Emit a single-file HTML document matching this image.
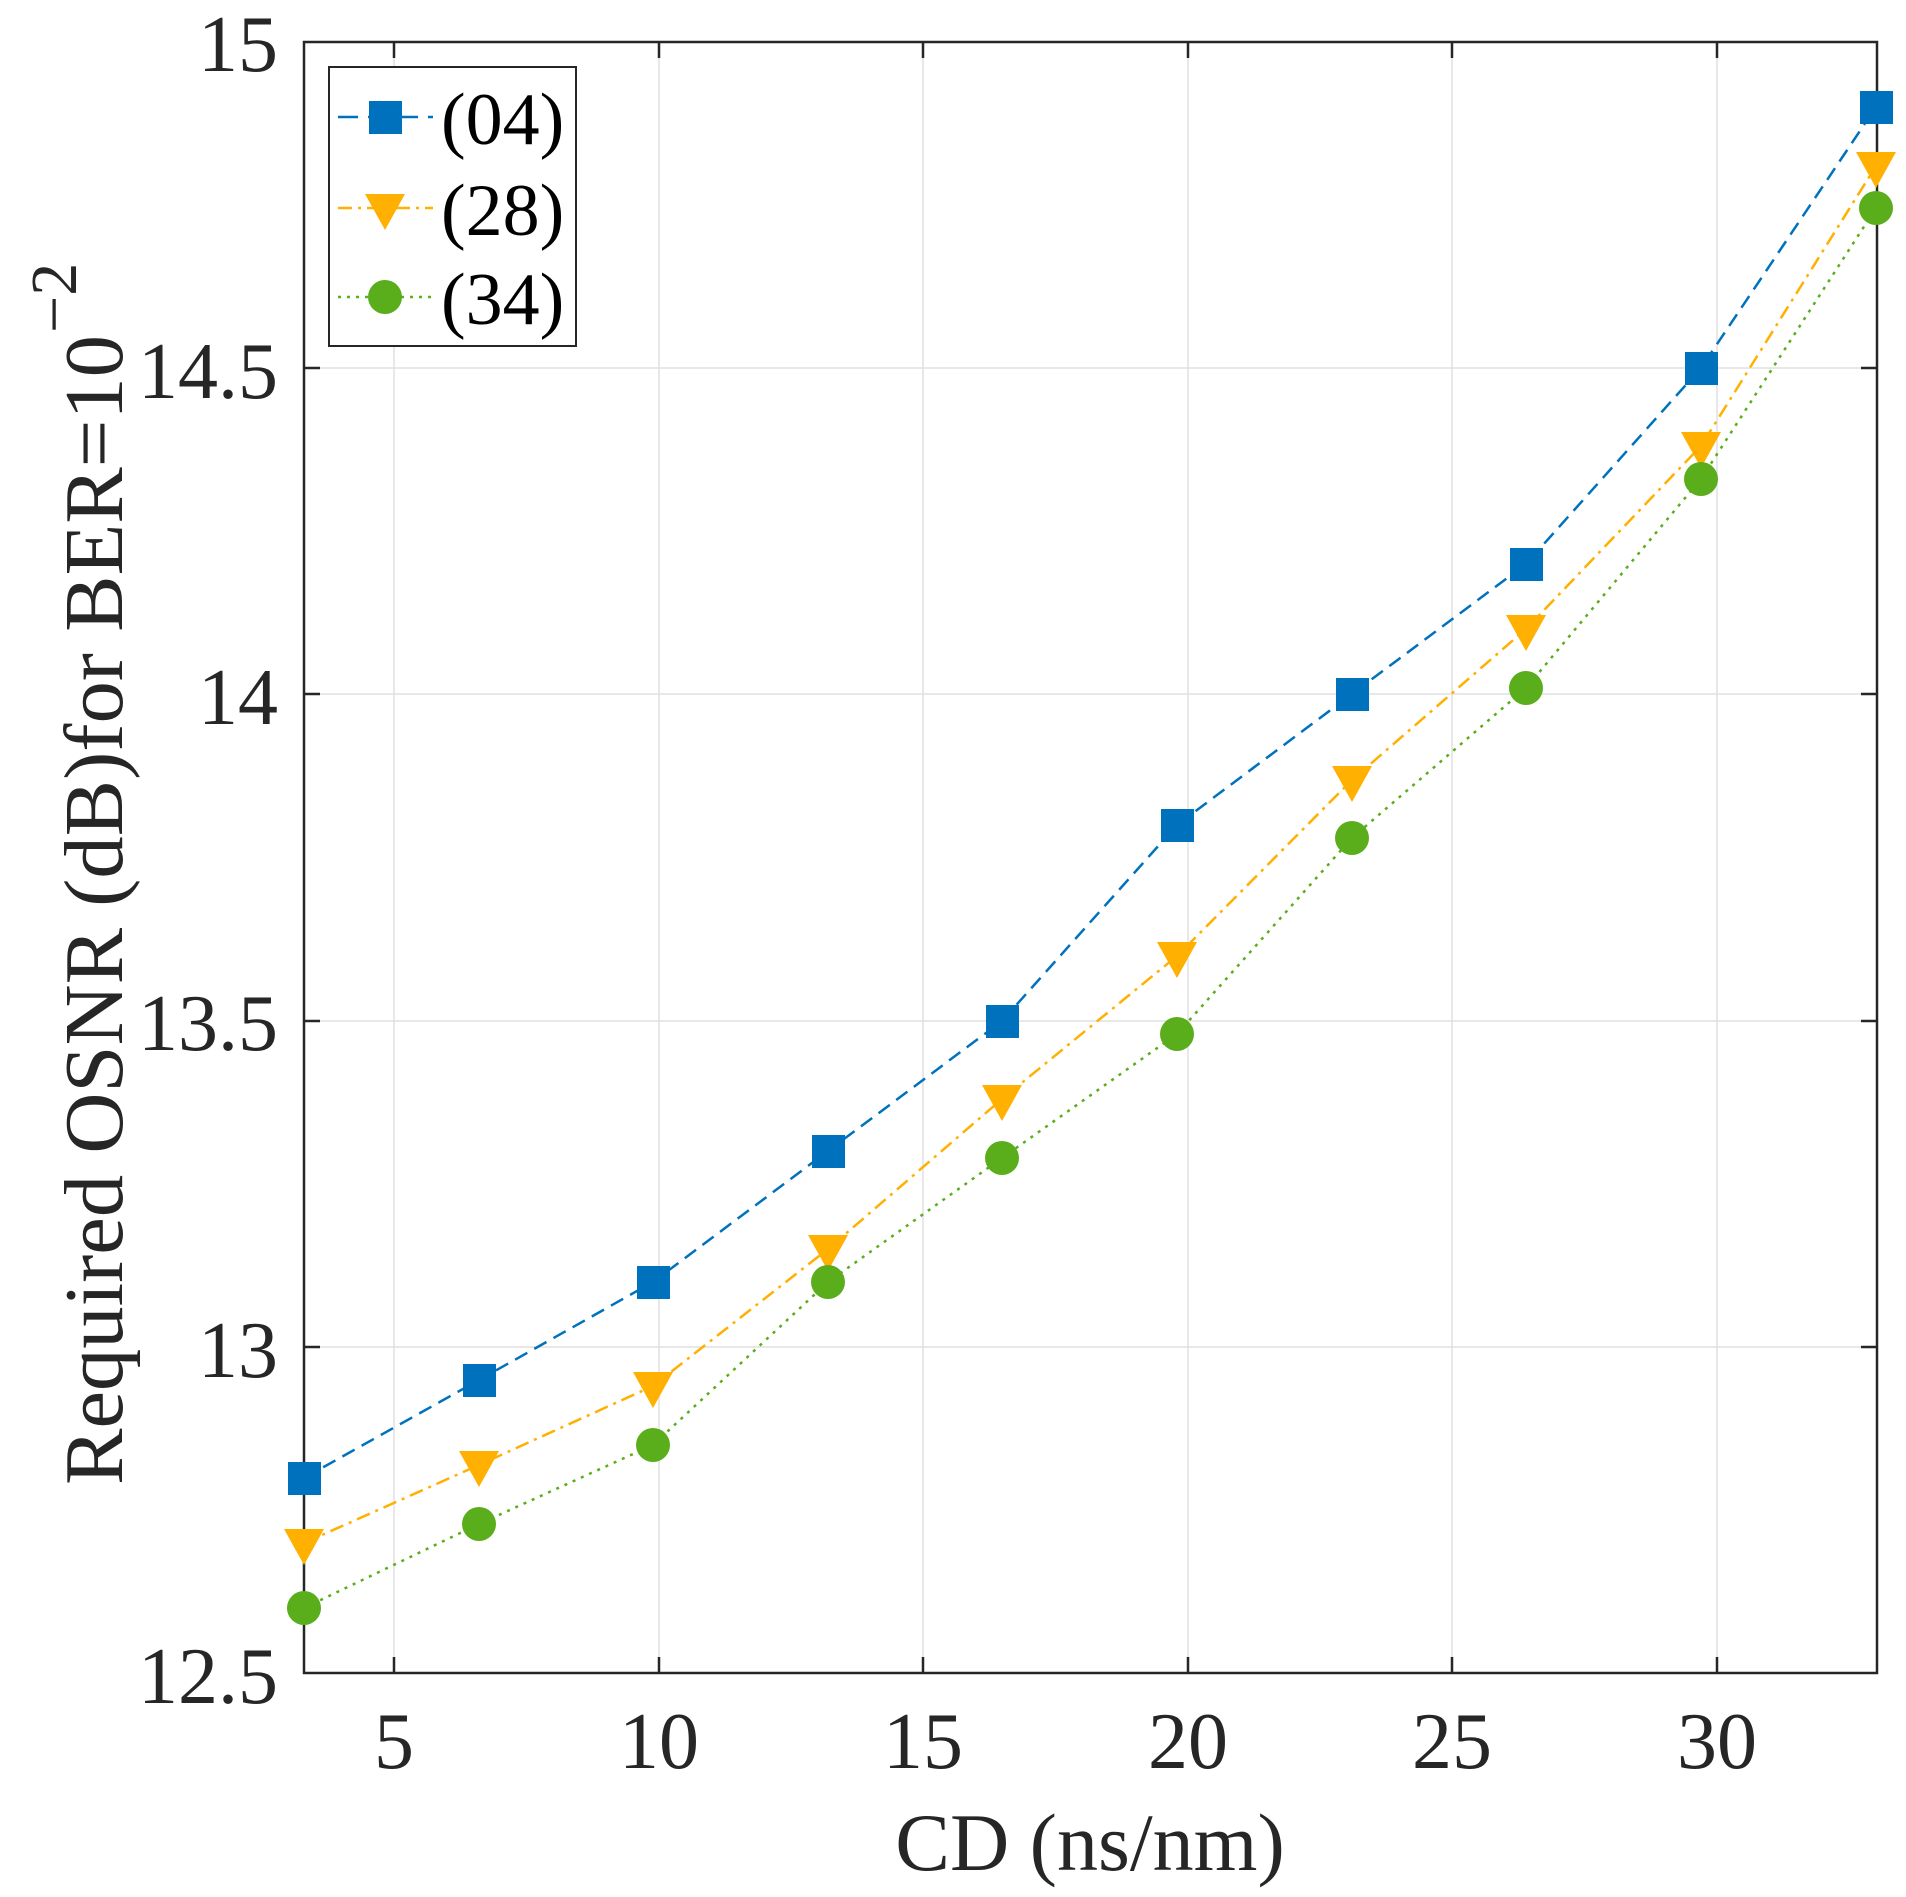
<!DOCTYPE html>
<html><head><meta charset="utf-8"><style>
html,body{margin:0;padding:0;background:#fff;}
svg{display:block;font-family:"Liberation Serif",serif;}
</style></head><body>
<svg width="1906" height="1897" viewBox="0 0 1906 1897" xmlns="http://www.w3.org/2000/svg">
<rect width="1906" height="1897" fill="#fff"/>
<g stroke="#e0e0e0" stroke-width="1.5">
<line x1="394" y1="42" x2="394" y2="1673"/>
<line x1="659" y1="42" x2="659" y2="1673"/>
<line x1="923" y1="42" x2="923" y2="1673"/>
<line x1="1188" y1="42" x2="1188" y2="1673"/>
<line x1="1452" y1="42" x2="1452" y2="1673"/>
<line x1="1717" y1="42" x2="1717" y2="1673"/>
<line x1="304" y1="368" x2="1877" y2="368"/>
<line x1="304" y1="694" x2="1877" y2="694"/>
<line x1="304" y1="1021" x2="1877" y2="1021"/>
<line x1="304" y1="1347" x2="1877" y2="1347"/>
</g>
<g stroke="#262626" stroke-width="2.5">
<rect x="304" y="42" width="1573" height="1631" fill="none"/>
<path d="M394 1673v-16M659 1673v-16M923 1673v-16M1188 1673v-16M1452 1673v-16M1717 1673v-16M394 42v16M659 42v16M923 42v16M1188 42v16M1452 42v16M1717 42v16M304 368h16M304 694h16M304 1021h16M304 1347h16M1877 368h-16M1877 694h-16M1877 1021h-16M1877 1347h-16"/>
</g>
<g font-size="80" fill="#262626" text-anchor="middle">
<text x="394" y="1768">5</text><text x="659" y="1768">10</text><text x="923" y="1768">15</text><text x="1188" y="1768">20</text><text x="1452" y="1768">25</text><text x="1717" y="1768">30</text>
</g>
<g font-size="80" fill="#262626" text-anchor="end">
<text x="278" y="1703">12.5</text><text x="278" y="1377">13</text><text x="278" y="1050">13.5</text><text x="278" y="724">14</text><text x="278" y="398">14.5</text><text x="278" y="71">15</text>
</g>
<text x="1090" y="1870" font-size="82" fill="#262626" text-anchor="middle">CD (ns/nm)</text>
<text transform="translate(122,1485) rotate(-90)" font-size="84" fill="#262626" textLength="1150" lengthAdjust="spacingAndGlyphs">Required OSNR (dB)for BER=10</text>
<text transform="translate(122,333) rotate(-90)" font-size="66" fill="#262626"><tspan dy="-46">−2</tspan></text>
<polyline fill="none" stroke="#0072BD" stroke-width="2.5" stroke-dasharray="14,8" points="304,1478 479,1380 653,1282 828,1151 1002,1021 1177,825 1352,694 1526,564 1701,368 1876,107"/>
<polyline fill="none" stroke="#FFB000" stroke-width="2.5" stroke-dasharray="14,6,3,6" points="304,1543 479,1465 653,1386 828,1249 1002,1099 1177,956 1352,780 1526,629 1701,446 1876,166"/>
<polyline fill="none" stroke="#5AAD1B" stroke-width="2.5" stroke-dasharray="3,6" points="304,1608 479,1524 653,1445 828,1282 1002,1158 1177,1034 1352,838 1526,688 1701,479 1876,208"/>
<g fill="#0072BD">
<rect x="288" y="1462" width="33" height="33"/><rect x="463" y="1364" width="33" height="33"/><rect x="637" y="1266" width="33" height="33"/><rect x="812" y="1135" width="33" height="33"/><rect x="986" y="1005" width="33" height="33"/><rect x="1161" y="809" width="33" height="33"/><rect x="1336" y="678" width="33" height="33"/><rect x="1510" y="548" width="33" height="33"/><rect x="1685" y="352" width="33" height="33"/><rect x="1860" y="91" width="33" height="33"/>
</g>
<g fill="#FFB000">
<path d="M284 1529h40l-20 36z"/><path d="M459 1451h40l-20 36z"/><path d="M633 1372h40l-20 36z"/><path d="M808 1235h40l-20 36z"/><path d="M982 1085h40l-20 36z"/><path d="M1157 942h40l-20 36z"/><path d="M1332 766h40l-20 36z"/><path d="M1506 615h40l-20 36z"/><path d="M1681 432h40l-20 36z"/><path d="M1856 152h40l-20 36z"/>
</g>
<g fill="#5AAD1B">
<circle cx="304" cy="1608" r="17"/><circle cx="479" cy="1524" r="17"/><circle cx="653" cy="1445" r="17"/><circle cx="828" cy="1282" r="17"/><circle cx="1002" cy="1158" r="17"/><circle cx="1177" cy="1034" r="17"/><circle cx="1352" cy="838" r="17"/><circle cx="1526" cy="688" r="17"/><circle cx="1701" cy="479" r="17"/><circle cx="1876" cy="208" r="17"/>
</g>
<rect x="329" y="67" width="247" height="279" fill="#fff" stroke="#262626" stroke-width="2"/>
<line x1="338" y1="117" x2="433" y2="117" stroke="#0072BD" stroke-width="2.5" stroke-dasharray="20,10"/>
<rect x="369" y="101" width="33" height="33" fill="#0072BD"/>
<line x1="338" y1="208" x2="433" y2="208" stroke="#FFB000" stroke-width="2.5" stroke-dasharray="14,6,3,6"/>
<path d="M365 194h40l-20 36z" fill="#FFB000"/>
<line x1="338" y1="297" x2="433" y2="297" stroke="#5AAD1B" stroke-width="2.5" stroke-dasharray="3,6"/>
<circle cx="385" cy="297" r="17" fill="#5AAD1B"/>
<g font-size="74" fill="#000">
<text x="441" y="144">(04)</text><text x="441" y="235">(28)</text><text x="441" y="324">(34)</text>
</g>
</svg>
</body></html>
